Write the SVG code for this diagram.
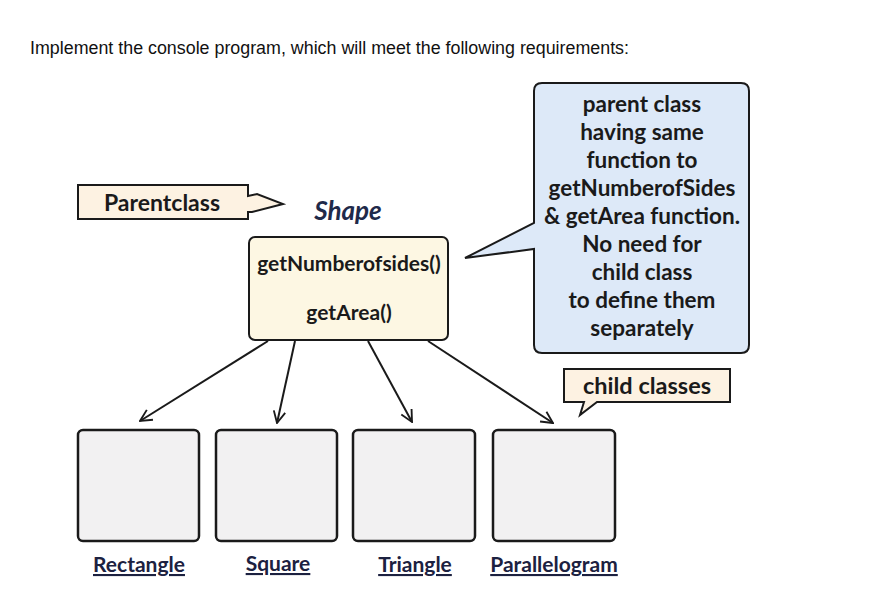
<svg xmlns="http://www.w3.org/2000/svg" width="887" height="616" viewBox="0 0 887 616">
<defs>
<style>
.t{font-family:Lato,"Open Sans","Noto Sans",sans-serif;font-weight:700;fill:#1a1a1a;text-anchor:middle}
.u{font-family:Lato,"Open Sans","Noto Sans",sans-serif;font-weight:700;fill:#1c2140;text-anchor:middle;text-decoration:underline}
.cream{fill:#fdf2e2;stroke:#1a1a1a;stroke-width:2}
.child{fill:#f2f1f2;stroke:#1a1a1a;stroke-width:2.5}
.conn{stroke:#1a1a1a;stroke-width:2;fill:none}
</style>
<marker id="ah" viewBox="0 0 12 12" refX="11" refY="6" markerWidth="14" markerHeight="14" markerUnits="userSpaceOnUse" orient="auto">
<path d="M1,1 L11,6 L1,11" fill="none" stroke="#1a1a1a" stroke-width="1.6"/>
</marker>
</defs>
<rect width="887" height="616" fill="#ffffff"/>
<text x="30" y="54" font-family="Liberation Sans,Arial,sans-serif" font-size="17.5" textLength="599" lengthAdjust="spacingAndGlyphs" fill="#111">Implement the console program, which will meet the following requirements:</text>

<g id="parentclass-label">
<path class="cream" d="M78,185 H248 V196 L257,194 L283,204 L252,212 L248,212 V219 H78 Z"/>
<text class="t" x="162" y="211" font-size="23">Parentclass</text>
</g>

<g id="shape-title">
<text x="348" y="220" font-family="Lato,'Open Sans',sans-serif" font-weight="700" font-style="italic" font-size="26" fill="#1f2a4a" text-anchor="middle">Shape</text>
</g>

<g id="shape">
<rect x="249" y="237" width="199" height="103" rx="6" fill="#fdf7e3" stroke="#1a1a1a" stroke-width="2"/>
<text class="t" x="349" y="271" font-size="21">getNumberofsides()</text>
<text class="t" x="349" y="320" font-size="21">getArea()</text>
</g>

<g id="callout">
<path d="M542,83 H741 Q749,83 749,91 V345 Q749,353 741,353 H542 Q534,353 534,345 V249 L465,258 L534,223 V91 Q534,83 542,83 Z" fill="#dde9f8" stroke="#1a1a1a" stroke-width="2"/>
<g class="t" font-size="22.5">
<text x="642" y="112">parent class</text>
<text x="642" y="140">having same</text>
<text x="642" y="168">function to</text>
<text x="642" y="196">getNumberofSides</text>
<text x="642" y="224">&amp; getArea function.</text>
<text x="642" y="252">No need for</text>
<text x="642" y="280">child class</text>
<text x="642" y="308">to define them</text>
<text x="642" y="336">separately</text>
</g>
</g>

<g id="child-classes-label">
<path class="cream" d="M564,369 H730 V402 H597 L580,415 L584,402 H564 Z"/>
<text class="t" x="647" y="394" font-size="23.5">child classes</text>
</g>

<g id="connectors">
<line class="conn" x1="268" y1="341" x2="140" y2="421" marker-end="url(#ah)"/>
<line class="conn" x1="295" y1="341" x2="277" y2="423" marker-end="url(#ah)"/>
<line class="conn" x1="368" y1="341" x2="412" y2="422" marker-end="url(#ah)"/>
<line class="conn" x1="428" y1="341" x2="553" y2="423" marker-end="url(#ah)"/>
</g>

<g id="rectangle">
<rect class="child" x="78" y="430" width="121" height="111" rx="5"/>
<text class="u" x="139" y="572" font-size="21">Rectangle</text>
</g>
<g id="square">
<rect class="child" x="216" y="430" width="121" height="111" rx="5"/>
<text class="u" x="278" y="571" font-size="21">Square</text>
</g>
<g id="triangle">
<rect class="child" x="353" y="430" width="122" height="111" rx="5"/>
<text class="u" x="415" y="572" font-size="21">Triangle</text>
</g>
<g id="parallelogram">
<rect class="child" x="493" y="430" width="122" height="111" rx="5"/>
<text class="u" x="554" y="572" font-size="21">Parallelogram</text>
</g>
</svg>
